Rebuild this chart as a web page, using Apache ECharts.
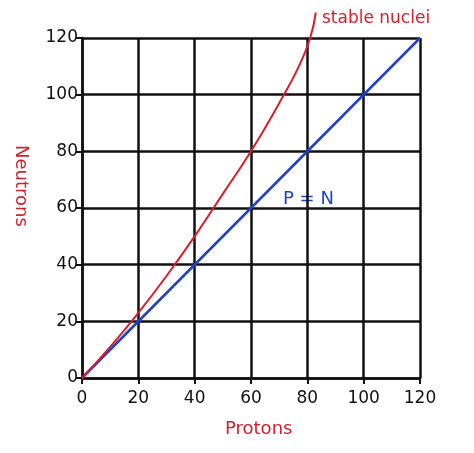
<!DOCTYPE html>
<html><head><meta charset="utf-8">
<script src="https://cdn.jsdelivr.net/npm/echarts@6/dist/echarts.min.js"></script>
<style>html,body{margin:0;background:#fff}#c{width:474px;height:453px}</style>
</head><body><div id="c"></div>
<script>
const ticks = [0, 20, 40, 60, 80, 100, 120];
const pnLine = [[0, 0], [120, 120]];
const stableNuclei = [[0, 0], [10, 11], [20, 23], [30, 36], [40, 50], [50, 65], [60, 80], [70, 97], [77, 110], [81, 120], [83, 129]];

const chart = echarts.init(document.getElementById('c'));
const font = 'Comic Sans MS, "DejaVu Sans", sans-serif';
const axisCommon = {
  type: 'value', min: 0, max: 120, interval: 20,
  axisLine: { lineStyle: { color: '#111', width: 2.5 } },
  axisTick: { show: true, length: 6, lineStyle: { color: '#111', width: 2 } },
  splitLine: { lineStyle: { color: '#111', width: 2.5 } },
  axisLabel: { color: '#111', fontSize: 17, fontFamily: font }
};
chart.setOption({
  animation: false,
  grid: { left: 82, right: 54, top: 38, bottom: 75 },
  xAxis: Object.assign({}, axisCommon, { axisLabel: Object.assign({}, axisCommon.axisLabel, { margin: 12 }) }),
  yAxis: Object.assign({}, axisCommon, { axisLabel: Object.assign({}, axisCommon.axisLabel, { margin: 4 }) }),
  series: [
    { type: 'line', data: pnLine, symbol: 'none', lineStyle: { color: '#1f3fcf', width: 2.5 } },
    { type: 'line', data: stableNuclei, symbol: 'none', smooth: true, clip: false, lineStyle: { color: '#d81e2a', width: 2 } }
  ],
  graphic: [
    { type: 'text', left: 322, top: 10, style: { text: 'stable nuclei', fill: '#d81e2a', fontSize: 17, fontFamily: font } },
    { type: 'text', left: 283, top: 190, style: { text: 'P = N', fill: '#1f3fcf', fontSize: 18, fontFamily: font } },
    { type: 'text', left: 225, top: 420, style: { text: 'Protons', fill: '#d81e2a', fontSize: 18, fontFamily: font } },
    { type: 'text', left: 12, top: 145, rotation: -Math.PI / 2, style: { text: 'Neutrons', fill: '#d81e2a', fontSize: 18, fontFamily: font } }
  ]
});
</script></body></html>
